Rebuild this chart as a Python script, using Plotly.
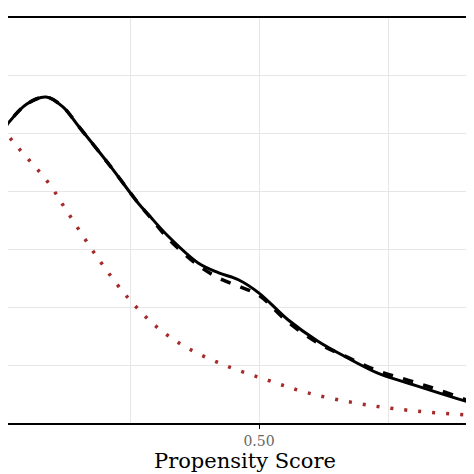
import plotly.graph_objects as go

solid_x = [0.250, 0.257, 0.275, 0.2937, 0.310, 0.325, 0.355, 0.383, 0.393, 0.412, 0.441, 0.461,
           0.480, 0.500, 0.528, 0.557, 0.586, 0.615, 0.644, 0.674, 0.716, 0.73]
solid_y = [5.00, 5.17, 5.50, 5.62, 5.45, 5.12, 4.45, 3.79, 3.59, 3.22, 2.76, 2.59,
           2.47, 2.24, 1.78, 1.41, 1.12, 0.86, 0.69, 0.52, 0.29, 0.22]
dash_x = [0.250, 0.257, 0.275, 0.2937, 0.310, 0.325, 0.355, 0.383, 0.393, 0.412, 0.441, 0.461,
          0.480, 0.500, 0.528, 0.557, 0.586, 0.615, 0.644, 0.674, 0.716, 0.73]
dash_y = [5.00, 5.17, 5.50, 5.62, 5.45, 5.12, 4.45, 3.79, 3.58, 3.18, 2.72, 2.50,
          2.36, 2.20, 1.74, 1.38, 1.13, 0.90, 0.74, 0.57, 0.30, 0.22]
dot_x = [0.250, 0.267, 0.296, 0.315, 0.344, 0.373, 0.402, 0.431, 0.469, 0.508, 0.547,
         0.595, 0.644, 0.716, 0.73]
dot_y = [5.10, 4.74, 4.14, 3.62, 2.84, 2.16, 1.64, 1.29, 0.98, 0.74, 0.52,
         0.34, 0.22, 0.12, 0.11]

fig = go.Figure()
fig.add_trace(go.Scatter(x=dot_x, y=dot_y, mode="lines", line_shape="spline",
                         line=dict(color="#a52a2a", width=3.5, dash="3px,11px")))
fig.add_trace(go.Scatter(x=dash_x, y=dash_y, mode="lines", line_shape="spline",
                         line=dict(color="black", width=3.5, dash="dash")))
fig.add_trace(go.Scatter(x=solid_x, y=solid_y, mode="lines", line_shape="spline",
                         line=dict(color="black", width=3)))

fig.update_layout(
    width=474, height=474, showlegend=False,
    plot_bgcolor="white", paper_bgcolor="white",
    margin=dict(l=0, r=0, t=9, b=59, autoexpand=False),
    font=dict(family="DejaVu Serif", color="black"),
)
fig.update_xaxes(range=[0.2568, 0.716], tickvals=[0.25, 0.50], ticktext=["0.25", "0.50"],
                 tickfont=dict(size=14, color="#666"), ticks="outside", ticklen=4,
                 tickcolor="black", showline=True, linecolor="black", linewidth=2,
                 gridcolor="#e6e6e6", minor=dict(tickvals=[0.375, 0.625], showgrid=True, gridcolor="#e6e6e6"),
                 title=dict(text="Propensity Score", font=dict(size=21), standoff=2),
                 automargin=False, zeroline=False)
fig.update_yaxes(range=[0, 7], dtick=1, showticklabels=False, gridcolor="#e6e6e6",
                 showline=False, zeroline=False, automargin=False)
fig.add_shape(type="line", xref="paper", yref="paper", x0=0, x1=1, y0=1, y1=1,
              line=dict(color="black", width=2))

fig.write_html("out.html")
